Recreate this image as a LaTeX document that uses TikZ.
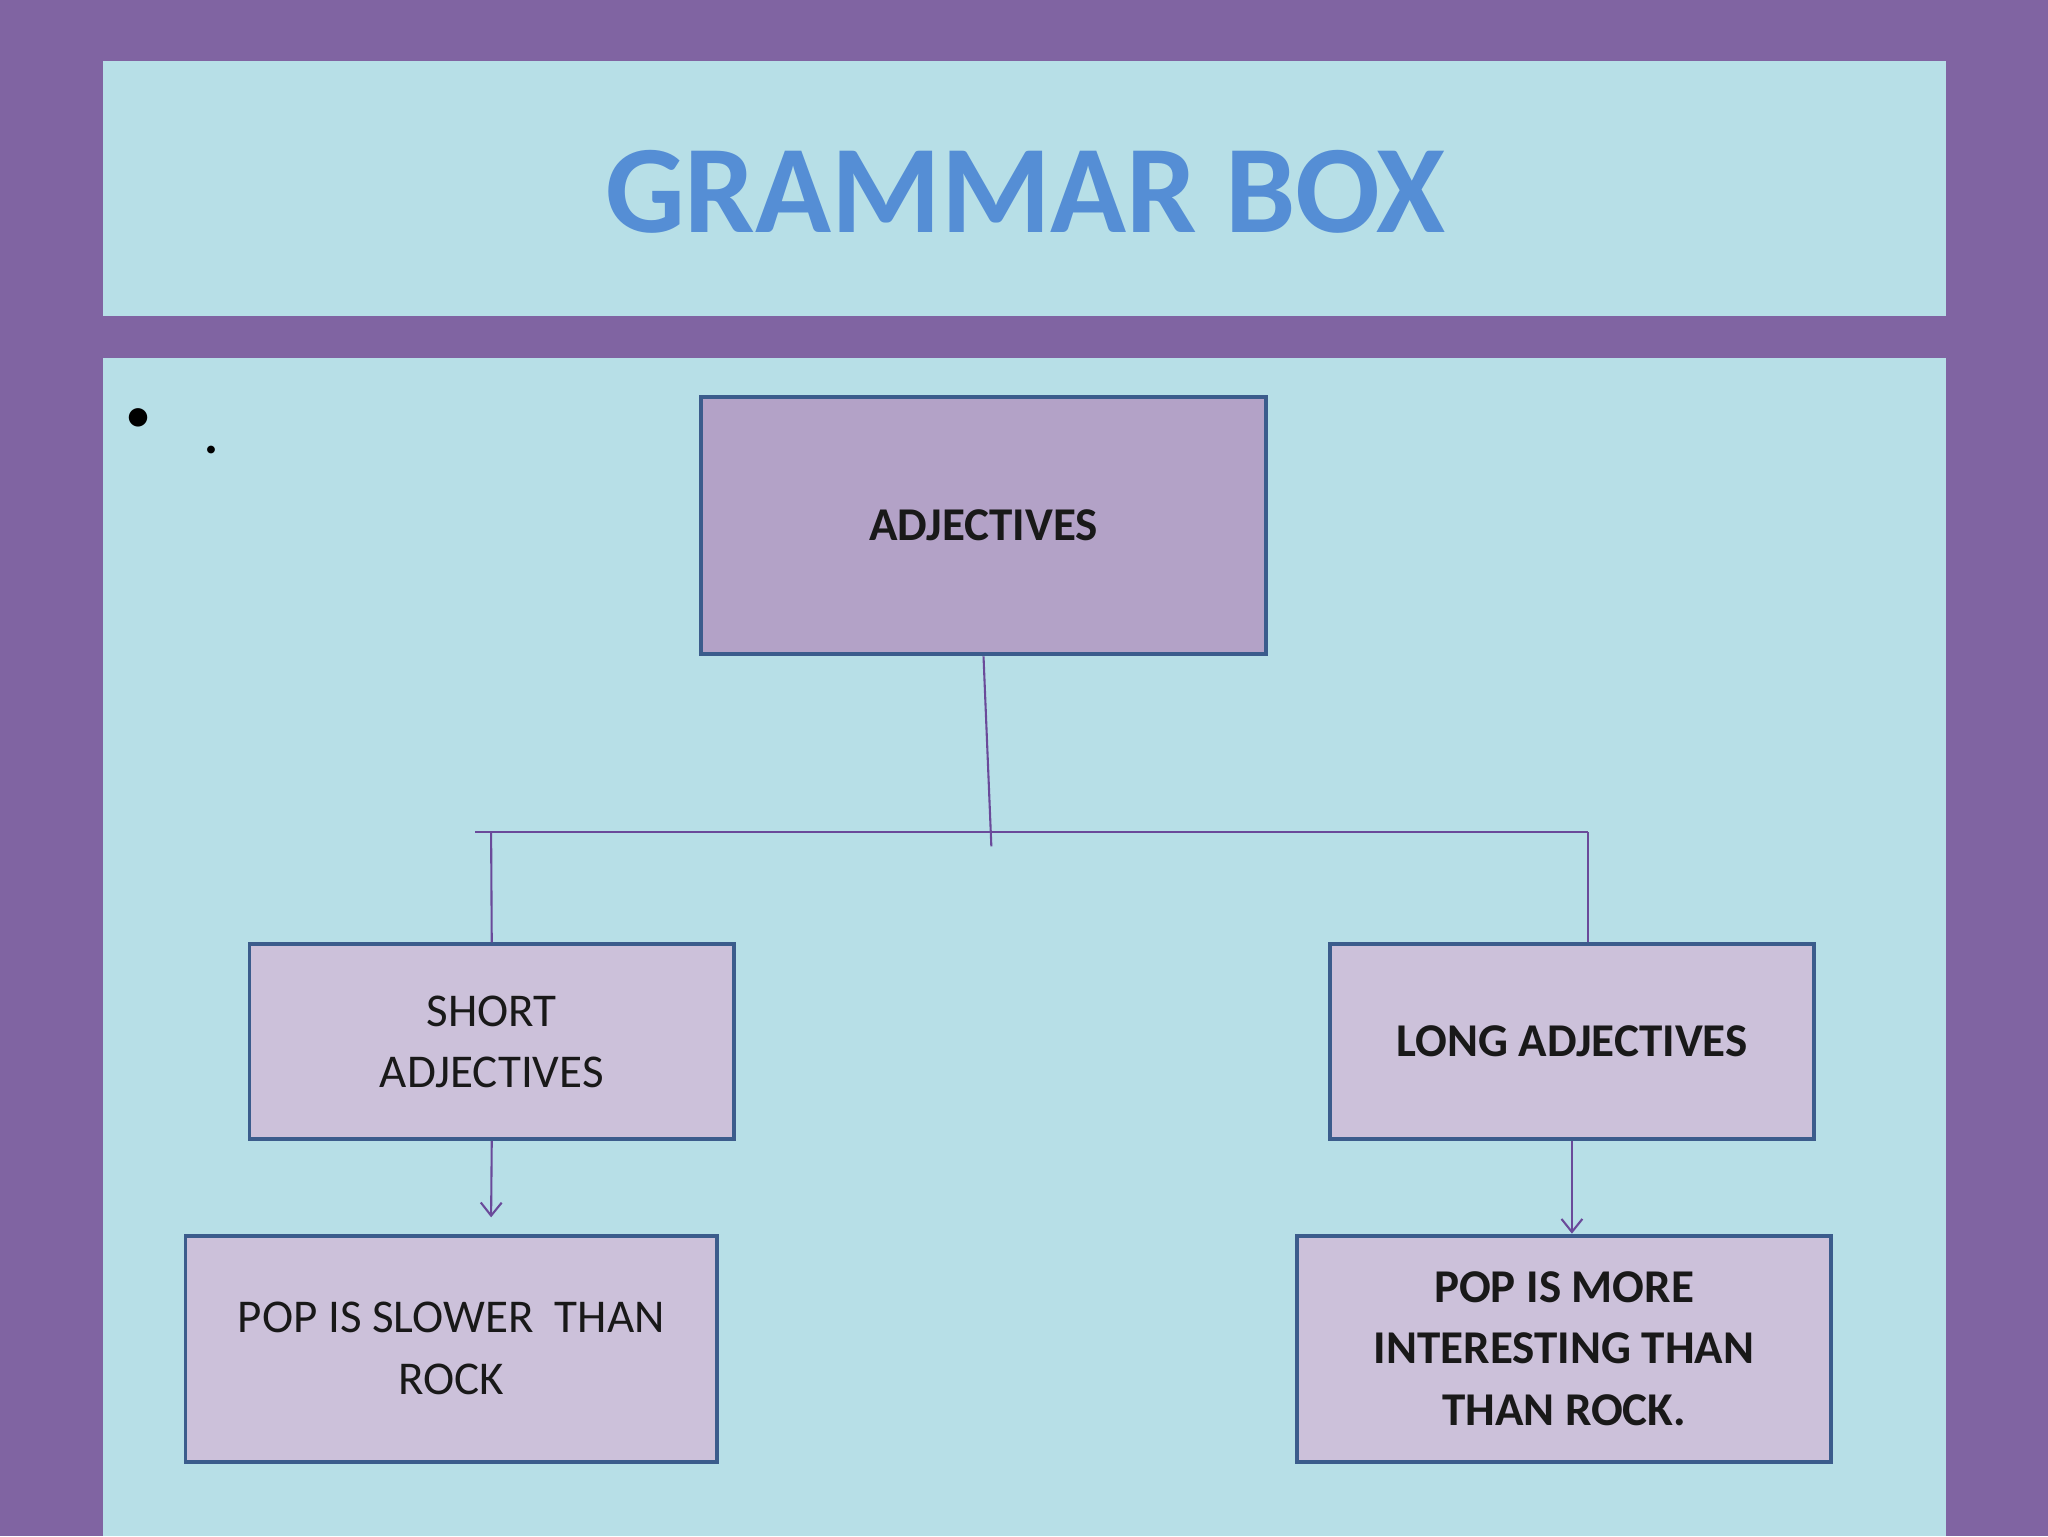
\documentclass[tikz,border=0pt]{standalone}
\usepackage{fontspec}
\setmainfont{Carlito}
\usetikzlibrary{arrows.meta}
\definecolor{bgp}{HTML}{8064A2}
\definecolor{panel}{HTML}{B7DFE7}
\definecolor{ttl}{HTML}{558ED5}
\definecolor{topf}{HTML}{B3A2C7}
\definecolor{subf}{HTML}{CCC1DA}
\definecolor{bord}{HTML}{3B5C8C}
\definecolor{conn}{HTML}{6A4A9A}
\tikzset{
 box/.style={draw=bord,line width=3pt,align=center,inner sep=0pt,fill=subf,text=black!90},
 conline/.style={draw=conn,line width=1.6pt},
 arr/.style={conline,-{Straight Barb[length=10pt,width=16pt]}}
}
\begin{document}
\begin{tikzpicture}[x=1pt,y=-1pt]
\fill[bgp] (0,0) rectangle (1568,1176);
\fill[panel] (79,47) rectangle (1490,242);
\fill[panel] (79,274) rectangle (1490,1176);
\node[text=ttl,font=\fontsize{96}{110}\selectfont\bfseries] (title) at (785,147) {GRAMMAR BOX};
\node[font=\fontsize{40}{48}\selectfont] (bul) at (106,322) {•};
\node[font=\fontsize{40}{48}\selectfont\bfseries,anchor=base] (dot) at (162,347) {.};
\node[box,fill=topf,minimum width=432pt,minimum height=197pt,font=\fontsize{36}{44}\selectfont\bfseries] (adj) at (753,402.5) {ADJECTIVES};
\node[box,minimum width=371pt,minimum height=149pt,font=\fontsize{36}{47}\selectfont] (short) at (376.5,797.5) {SHORT\\ADJECTIVES};
\node[box,minimum width=371pt,minimum height=149pt,font=\fontsize{36}{47}\selectfont\bfseries] (long) at (1203.5,797.5) {LONG ADJECTIVES};
\node[box,minimum width=407pt,minimum height=173pt,font=\fontsize{36}{47}\selectfont] (slow) at (345.5,1032.5) {POP IS SLOWER\ \ THAN\\ROCK};
\node[box,minimum width=409pt,minimum height=173pt,font=\fontsize{36}{47}\selectfont\bfseries] (more) at (1197.5,1032.5) {POP IS MORE\\INTERESTING THAN\\THAN ROCK.};
\coordinate (jb) at (759,648);
\coordinate (hl) at (364,637);
\coordinate (hr) at (1216,637);
\draw[conline] (adj.south) -- (jb);
\draw[conline] (hl) -- (hr);
\draw[conline] (376,637) -- (short.north);
\draw[conline] (hr) -- (hr |- long.north);
\draw[arr] (short.south) -- (376,932);
\draw[arr] (long.south) -- (more.north -| long.south);
\end{tikzpicture}
\end{document}
